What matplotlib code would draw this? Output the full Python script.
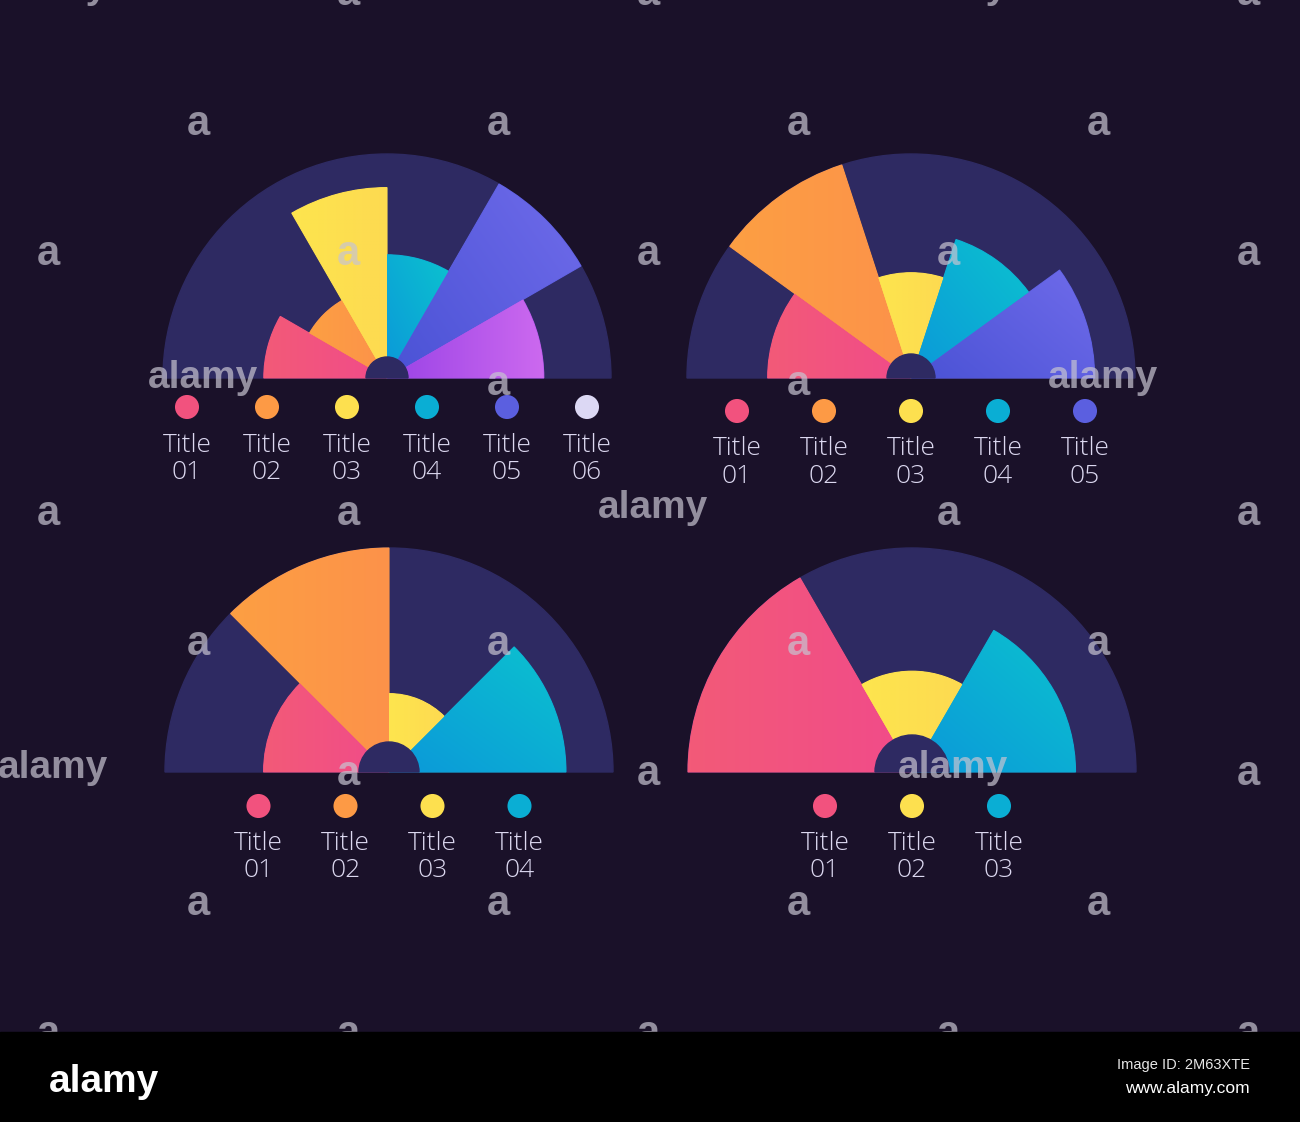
import matplotlib
matplotlib.use("Agg")
import matplotlib.pyplot as plt
import numpy as np
from matplotlib.patches import Wedge, Rectangle
from matplotlib.colors import LinearSegmentedColormap

W, H = 1300, 1122
BG = "#1a1129"
ARC = "#2e2a62"
TXT = "#dcd8f0"
R = 224  # outer radius of the half discs, px

# radius of every slice, in % of the outer half disc (left -> right)
names1 = ["01", "02", "03", "04", "05", "06"]
radii1 = [55, 40, 85, 55, 100, 70]
names2 = ["01", "02", "03", "04", "05"]
radii2 = [64, 100, 47, 65, 82]
names3 = ["01", "02", "03", "04"]
radii3 = [56, 100, 35, 79]
names4 = ["01", "02", "03"]
radii4 = [100, 45, 73]

# slice gradients: (start colour, end colour, direction in deg)
PINK = ("#f35a78", "#f14b8a", 0)
ORANGE = ("#fd9f43", "#fc924a", 0)
YELLOW = ("#fde54e", "#fdda51", 0)
TEAL = ("#0b98d9", "#0cc2cf", 45)
BLUE = ("#4a52d5", "#6f6bea", 35)
PURPLE = ("#9a43e6", "#cc69ef", 0)
# legend dots
DOT = {"pink": "#f2527e", "orange": "#fd9a45", "yellow": "#fde04f",
       "teal": "#0aaed4", "blue": "#5b5fe0", "lav": "#dcd8f4"}

charts = [
    # centre px, slices, colours, dots, hub radius, legend spacing, legend offsets
    ((387, 378), names1, radii1, [PINK, ORANGE, YELLOW, TEAL, BLUE, PURPLE],
     ["pink", "orange", "yellow", "teal", "blue", "lav"], 21, 80, (29, 74, 101)),
    ((911, 378), names2, radii2, [PINK, ORANGE, YELLOW, TEAL, BLUE],
     ["pink", "orange", "yellow", "teal", "blue"], 24, 87, (33, 77, 105)),
    ((389, 772), names3, radii3, [PINK, ORANGE, YELLOW, TEAL],
     ["pink", "orange", "yellow", "teal"], 30, 87, (34, 78, 105)),
    ((912, 772), names4, radii4, [PINK, YELLOW, TEAL],
     ["pink", "yellow", "teal"], 37, 87, (34, 78, 105)),
]


def grad_wedge(ax, r, t1, t2, cols):
    mid = LinearSegmentedColormap.from_list("m", cols[:2])(0.5)
    ax.add_patch(Wedge((0, 0), r, t1, t2, facecolor=mid, edgecolor=mid, lw=0.8, zorder=1.5))
    w = Wedge((0, 0), r, t1, t2, facecolor="none", edgecolor="none")
    ax.add_patch(w)
    th = np.radians(np.linspace(t1, t2, 60))
    xs = np.r_[0, r * np.cos(th)]
    ys = np.r_[0, r * np.sin(th)]
    gx, gy = np.meshgrid(np.linspace(0, 1, 64), np.linspace(0, 1, 64))
    a = np.radians(cols[2])
    g = gx * np.cos(a) + gy * np.sin(a)
    g = (g - g.min()) / (g.max() - g.min())
    cmap = LinearSegmentedColormap.from_list("g", cols[:2])
    im = ax.imshow(g, extent=(xs.min(), xs.max(), ys.min(), ys.max()), origin="lower",
                   cmap=cmap, aspect="auto", interpolation="bilinear", zorder=2)
    im.set_clip_path(w)


fig = plt.figure(figsize=(W / 100, H / 100), dpi=100, facecolor=BG)

for (cx, cy), names, radii, cols, dots, hub, gap, (dy, ty1, ty2) in charts:
    ax = fig.add_axes([(cx - 240) / W, (H - cy - 110) / H, 480 / W, 350 / H])
    ax.set_facecolor(BG)
    n = len(radii)
    step = 180 / n
    ax.add_patch(Wedge((0, 0), R, 0, 180, color=ARC, zorder=1))
    for i, v in enumerate(radii):
        t2 = 180 - i * step
        grad_wedge(ax, v / 100 * R, t2 - step, t2, cols[i])
    ax.add_patch(Wedge((0, 0), hub, 0, 180, color=ARC, zorder=3))

    xs = (np.arange(n) - (n - 1) / 2) * gap
    ax.scatter(xs, [-dy] * n, s=300, c=[DOT[d] for d in dots], linewidths=0, zorder=3)
    for x, nm in zip(xs, names):
        ax.text(x, -ty1, "Title", ha="center", va="baseline", color=TXT,
                fontsize=19, family=["Open Sans", "DejaVu Sans"], weight="light")
        ax.text(x, -ty2, nm, ha="center", va="baseline", color=TXT,
                fontsize=19, family=["Open Sans", "DejaVu Sans"], weight="light")
    ax.set_xlim(-240, 240)
    ax.set_ylim(-110, 240)
    ax.axis("off")

# stock-photo watermark overlay and footer band
ov = fig.add_axes([0, 0, 1, 1], zorder=10)
ov.set_xlim(0, W)
ov.set_ylim(H, 0)
ov.axis("off")
ov.patch.set_alpha(0)

NARROW = ["Liberation Sans", "DejaVu Sans"]
wm = dict(family=NARROW, weight="bold", color=(0.78, 0.77, 0.82), alpha=0.7,
          ha="center", va="baseline", zorder=1)
big = [(48, -7), (948, -7), (198, 383), (1098, 383), (648, 513), (48, 773), (948, 773)]
rows = [-7, 123, 253, 383, 513, 643, 773, 903, 1033]
for k, ry in enumerate(rows):
    cols_x = [48, 348, 648, 948, 1248] if k % 2 == 0 else [198, 498, 798, 1098]
    for x in cols_x:
        if (x, ry) in big:
            ov.text(x + 5, ry + 5, "alamy", fontsize=28, **wm)
        else:
            ov.text(x, ry + 12, "a", fontsize=30, **wm)

ov.add_patch(Rectangle((0, 1032), W, H - 1032, color="black", zorder=2))
ov.text(49, 1092, "alamy", color="white", fontsize=28, weight="bold",
        family=NARROW, ha="left", va="baseline", zorder=3)
ov.text(1250, 1069, "Image ID: 2M63XTE", color="#e8e8e8", fontsize=10.5,
        family=NARROW, ha="right", va="baseline", zorder=3)
ov.text(1250, 1093, "www.alamy.com", color="white", fontsize=12.5,
        family=NARROW, ha="right", va="baseline", zorder=3)

fig.savefig("out.png", dpi=100, facecolor=BG)
